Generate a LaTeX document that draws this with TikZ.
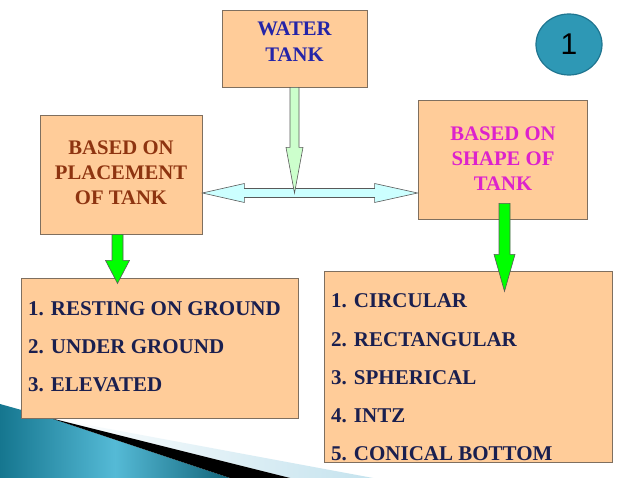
\documentclass[tikz,border=0pt]{standalone}
\usepackage{fontspec}
\setmainfont{Liberation Serif}[BoldFont={* Bold}]
\newfontfamily\numfont{Liberation Sans}
\usetikzlibrary{calc,shapes.geometric}
\definecolor{peach}{HTML}{FFCC99}
\definecolor{boxline}{HTML}{7F6F5F}
\definecolor{tankblue}{HTML}{2424A8}
\definecolor{placebrown}{HTML}{8E3410}
\definecolor{shapemag}{HTML}{DD22CC}
\definecolor{listnavy}{HTML}{1A1F4F}
\definecolor{palegreen}{HTML}{CCFFCC}
\definecolor{palecyan}{HTML}{CCFFFF}
\definecolor{brightgreen}{HTML}{00FF00}
\definecolor{tealA}{HTML}{15768F}
\definecolor{tealB}{HTML}{55BAD6}
\definecolor{badgefill}{HTML}{2E98B5}
\definecolor{badgeline}{HTML}{1F7590}
\definecolor{swooshblue}{HTML}{C5E3EE}
\tikzset{
  box/.style={rectangle, draw=boxline, fill=peach, line width=0.8pt, inner sep=0pt},
  hd/.style={inner sep=0pt, anchor=base, font=\bfseries\fontsize{20.7pt}{25pt}\selectfont},
  li/.style={inner sep=0pt, anchor=base west, text=listnavy, font=\bfseries\fontsize{21pt}{25pt}\selectfont},
  arrowline/.style={draw=black!65, line width=0.6pt, line join=miter},
}
\begin{document}
\begin{tikzpicture}[x=1pt,y=-1pt]
\useasboundingbox (0,0) rectangle (638,478);
\fill[white] (0,0) rectangle (638,478);

% bottom swoosh decoration
\shade[left color=tealA, right color=tealA!85!black, middle color=tealB]
  (0,404) -- (50,418) -- (230,478) -- (0,478) -- cycle;
\shade[left color=white, right color=swooshblue]
  (50,418) -- (373,478) -- (290,478) -- cycle;
\fill[black] (50,418) -- (290,478) -- (230,478) -- cycle;

% boxes
\node[box, minimum width=145pt, minimum height=77pt] (tank) at (294.5,48.5) {};
\node[box, minimum width=162pt, minimum height=119pt] (place) at (121,174.5) {};
\node[box, minimum width=169pt, minimum height=119pt] (shape) at (502.5,159.5) {};
\node[box, minimum width=277pt, minimum height=140pt] (placelist) at (159.5,348) {};
\node[box, minimum width=288pt, minimum height=191pt] (shapelist) at (468,366.5) {};

% header texts
\node[hd, text=tankblue] (t1) at (294.5,36) {WATER};
\node[hd, text=tankblue] (t2) at (294.5,62) {TANK};
\node[hd, text=placebrown] (p1) at (121,155) {BASED ON};
\node[hd, text=placebrown] (p2) at (121,180) {PLACEMENT};
\node[hd, text=placebrown] (p3) at (121,205) {OF TANK};
\node[hd, text=shapemag] (s1) at (503,141) {BASED ON};
\node[hd, text=shapemag] (s2) at (503,166) {SHAPE OF};
\node[hd, text=shapemag] (s3) at (503,191) {TANK};

% list texts
\node[li] (a1) at (28,316) {1. RESTING ON GROUND};
\node[li] (a2) at (28,354) {2. UNDER GROUND};
\node[li] (a3) at (28,392) {3. ELEVATED};
\node[li] (b1) at (331,308) {1. CIRCULAR};
\node[li] (b2) at (331,347) {2. RECTANGULAR};
\node[li] (b3) at (331,385) {3. SPHERICAL};
\node[li] (b4) at (331,423) {4. INTZ};
\node[li] (b5) at (331,461) {5. CONICAL BOTTOM};

% junction and arrow ends
\coordinate (jn) at (294.5,193);
\coordinate (L) at (place.east |- jn);
\coordinate (R) at (shape.west |- jn);

% horizontal double arrow
\draw[arrowline, fill=palecyan] (L) -- ($(L)+(42,-9.5)$) -- ($(L)+(42,-4.5)$)
  -- ($(R)+(-43,-4.5)$) -- ($(R)+(-43,-9.5)$) -- (R) -- ($(R)+(-43,9.5)$)
  -- ($(R)+(-43,4.5)$) -- ($(L)+(42,4.5)$) -- ($(L)+(42,9.5)$) -- cycle;

% vertical arrow from water tank
\draw[arrowline, fill=palegreen] ($(tank.south)+(-4.5,0)$) -- ($(tank.south)+(4.5,0)$)
  -- ($(tank.south)+(4.5,60)$) -- ($(tank.south)+(8.5,60)$) -- (jn)
  -- ($(tank.south)+(-8.5,60)$) -- ($(tank.south)+(-4.5,60)$) -- cycle;

% green arrows down to the lists
\coordinate (pa) at ($(place.south)+(-3.5,0)$);
\coordinate (pt) at ($(pa)+(0,49)$);
\draw[arrowline, fill=brightgreen] ($(pa)+(-5.5,0)$) -- ($(pa)+(5.5,0)$)
  -- ($(pa)+(5.5,26)$) -- ($(pa)+(12,26)$) -- (pt)
  -- ($(pa)+(-12,26)$) -- ($(pa)+(-5.5,26)$) -- cycle;

\coordinate (sa) at ($(shape.south)+(2,-16)$);
\coordinate (st) at ($(shape.south)+(2,72)$);
\draw[arrowline, fill=brightgreen] ($(sa)+(-5.5,0)$) -- ($(sa)+(5.5,0)$)
  -- ($(sa)+(5.5,51)$) -- ($(sa)+(10.5,51)$) -- (st)
  -- ($(sa)+(-10.5,51)$) -- ($(sa)+(-5.5,51)$) -- cycle;

% page number badge
\node[ellipse, draw=badgeline, fill=badgefill, line width=1.2pt,
  minimum width=66pt, minimum height=61pt, inner sep=0pt,
  font=\numfont\fontsize{30pt}{30pt}\selectfont] (badge) at (569,44.5) {1};
\end{tikzpicture}
\end{document}
